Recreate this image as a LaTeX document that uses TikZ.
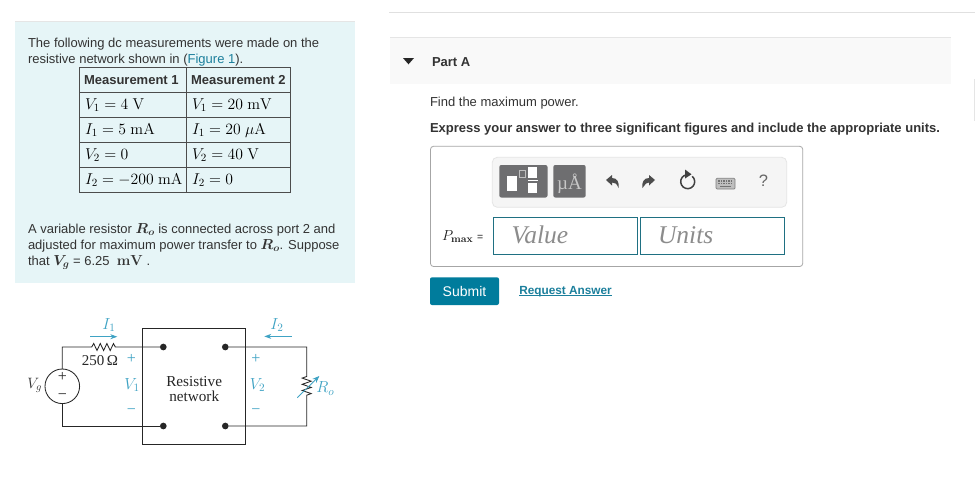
\RequirePackage{fix-cm}
\documentclass[tikz,border=0pt]{standalone}
\usepackage{amsmath}
\usepackage[no-math]{fontspec}
\setmainfont{Liberation Sans}
\usetikzlibrary{arrows.meta,calc}
\definecolor{panel}{HTML}{E6F5F7}
\definecolor{link}{HTML}{1B7F9C}
\definecolor{teal}{HTML}{007C9C}
\definecolor{boxb}{HTML}{1F7082}
\definecolor{cyanc}{HTML}{3FA3C4}
\definecolor{txt}{HTML}{333333}
\definecolor{icon}{HTML}{6E6E70}
\newfontfamily\seriff{Liberation Serif}
\newcommand{\mth}[1]{{\fontsize{14.5}{16}\selectfont\boldmath$#1$}}
\tikzset{
 px/.style={inner sep=0pt,outer sep=0pt},
 body/.style={px,anchor=base west,font=\fontsize{13}{15}\selectfont,text=txt},
 bodyb/.style={body,font=\bfseries\fontsize{13}{15}\selectfont},
 cell/.style={px,anchor=base west,font=\fontsize{15.7}{16}\selectfont,text=black},
 wire/.style={draw=black!85,line width=0.85pt},
 cwire/.style={draw=cyanc,line width=0.85pt},
 clab/.style={px,anchor=base,text=cyanc,font=\fontsize{16}{16}\selectfont},
 sign/.style={px,text=cyanc,font=\seriff\fontsize{16}{16}\selectfont},
 signk/.style={px,text=black!85,font=\seriff\fontsize{16}{16}\selectfont},
 dotn/.style={circle,fill=black!85,minimum size=6.7pt,px},
 tool/.style={fill=icon,rounded corners=2pt,draw=none},
 tabline/.style={draw=black!70,line width=0.8pt},
 ansbox/.style={draw=boxb,line width=0.9pt},
 hint/.style={px,anchor=base west,text=black!45,font=\seriff\itshape\fontsize{25.5}{27}\selectfont}
}
\begin{document}
\begin{tikzpicture}[x=1pt,y=-1pt]
\useasboundingbox (0,0) rectangle (975,479);
\fill[white] (0,0) rectangle (975,479);
% left panel
\fill[panel] (15,21) rectangle (355,283);
\draw[black!10,line width=0.8pt] (15,21) -- (355,21);
\node[body] (t1) at (28,47) {The following dc measurements were made on the};
\node[body] (t2) at (28,63) {resistive network shown in (\textcolor{link}{Figure 1}).};
% table
\draw[tabline] (79.3,67.3) rectangle (290.3,192.3);
\foreach \yy in {92.3,117.3,142.3,167.3}{\draw[tabline] (79.3,\yy) -- (290.3,\yy);}
\draw[tabline] (186.3,67.3) -- (186.3,192.3);
\node[bodyb] (h1) at (84,84) {Measurement 1};
\node[bodyb] (h2) at (191,84) {Measurement 2};
\node[cell] (a1) at (85,109.3) {$V_1=4\ \mathrm{V}$};
\node[cell] (b1) at (192,109.3) {$V_1=20\ \mathrm{mV}$};
\node[cell] (a2) at (85,134.3) {$I_1=5\ \mathrm{mA}$};
\node[cell] (b2) at (192,134.3) {$I_1=20\ \mu\mathrm{A}$};
\node[cell] (a3) at (85,159.3) {$V_2=0$};
\node[cell] (b3) at (192,159.3) {$V_2=40\ \mathrm{V}$};
\node[cell] (a4) at (85,184.3) {$I_2=-200\ \mathrm{mA}$};
\node[cell] (b4) at (192,184.3) {$I_2=0$};
\node[body] (t3) at (28,233.3) {A variable resistor \mth{R_o} is connected across port 2 and};
\node[body] (t4) at (28,249.3) {adjusted for maximum power transfer to \mth{R_o}. Suppose};
\node[body] (t5) at (28,265) {that \mth{V_g} = 6.25 \ \mth{\mathrm{mV}} .};
% circuit
\draw[black!85,line width=0.85pt] (142.7,328.3) rectangle (245.7,444.3);
\node[dotn] (d1) at (163.3,347) {};
\node[dotn] (d2) at (225.3,347) {};
\node[dotn] (d3) at (163.3,426) {};
\node[dotn] (d4) at (225.3,426) {};
\node[circle,draw=black!85,line width=0.85pt,minimum size=34.6pt,px] (src) at (62.3,386.3) {};
\coordinate (c1) at (62.3,347);
\coordinate (c2) at (62.3,426);
\coordinate (c3) at (306.7,347);
\coordinate (c4) at (306.7,426);
\coordinate (r1a) at (91.7,347);
\coordinate (r1b) at (115.3,347);
\coordinate (r2a) at (306.7,376.5);
\coordinate (r2b) at (306.7,398.5);
\draw[wire] (src.north) -- (c1) -- (r1a) -- ++(2,-3.5) -- ++(3.3,7) -- ++(3.3,-7) -- ++(3.3,7) -- ++(3.3,-7) -- ++(3.3,7) -- ++(3.3,-7) -- (r1b) -- (d1);
\draw[wire] (src.south) -- (c2) -- (d3);
\draw[wire] (d2) -- (c3) -- (r2a) -- ++(-4.5,1.6) -- ++(9,3.1) -- ++(-9,3.1) -- ++(9,3.1) -- ++(-9,3.1) -- ++(9,3.1) -- ++(-4.5,1.6) -- (r2b) -- (c4) -- (d4);
\coordinate (aa) at (297.3,397.7);
\coordinate (ab) at (319.3,376);
\draw[cwire,-{Stealth[length=7pt,width=5.5pt]}] (aa) -- (ab);
\coordinate (i1a) at (90,336.7);
\coordinate (i1b) at (117.3,336.7);
\coordinate (i2a) at (291.7,336.4);
\coordinate (i2b) at (264.3,336.4);
\draw[cwire,-{Stealth[length=7pt,width=5pt]}] (i1a) -- (i1b);
\draw[cwire,-{Stealth[length=7pt,width=5pt]}] (i2a) -- (i2b);
\node[clab] (li1) at (109,329.3) {$I_1$};
\node[clab] (li2) at (277,329.3) {$I_2$};
\node[px,anchor=base,text=black!85,font=\seriff\fontsize{15}{15}\selectfont] (l250) at (100,365) {250\,Ω};
\node[sign] (p1) at (131.3,358.5) {+};
\node[sign] (p2) at (256,358.5) {+};
\node[sign] (m1) at (131.3,412) {−};
\node[sign] (m2) at (256,412) {−};
\node[clab] (lv1) at (132,389.3) {$V_1$};
\node[clab] (lv2) at (257.5,389.3) {$V_2$};
\node[clab] (lro) at (325.3,392.7) {$R_o$};
\node[px,anchor=base,text=black!80,font=\fontsize{15}{15}\selectfont] (lvg) at (34.7,388.3) {$V_g$};
\node[signk] (sp) at (62.3,377.3) {+};
\node[signk] (sm) at (62.3,396.7) {−};
\node[px,anchor=base,font=\seriff\fontsize{15.2}{15.7}\selectfont,text=black!85] (rn1) at (194.2,386) {Resistive};
\node[px,anchor=base,font=\seriff\fontsize{15.2}{15.7}\selectfont,text=black!85] (rn2) at (194.2,401.7) {network};
% right side
\draw[black!12,line width=0.8pt] (389,12.5) -- (975,12.5);
\fill[black!2.5] (390,37.3) rectangle (951,83.5);
\draw[black!10,line width=0.8pt] (390,37.3) -- (951,37.3);
\coordinate (ta) at (403,58);
\coordinate (tb) at (414,58);
\coordinate (tc) at (408.5,64.3);
\fill[black!85] (ta) -- (tb) -- (tc) -- cycle;
\node[bodyb] (pa) at (432,66) {Part A};
\node[body] (q1) at (430,106.7) {Find the maximum power.};
\node[bodyb] (q2) at (430,132.3) {Express your answer to three significant figures and include the appropriate units.};
\draw[black!35,rounded corners=3pt,line width=0.8pt] (430.5,146.3) rectangle (802.7,266.5);
\draw[black!10,fill=black!4,rounded corners=5pt,line width=0.8pt] (492.3,157.3) rectangle (786.7,207.3);
\fill[tool] (499.3,165) rectangle (547.5,197.5);
\fill[tool] (553.3,165) rectangle (585.7,197.5);
\fill[white] (506.7,176) rectangle (516.7,190.7);
\draw[black!25,line width=0.7pt] (519.3,170.3) rectangle (525,177.5);
\fill[white] (528.3,167.3) rectangle (537.3,178.3);
\fill[white] (528.3,183.3) rectangle (537.3,192.7);
\fill[white] (527.5,180.3) rectangle (538,181.2);
\node[px,anchor=base,text=black!22,font=\seriff\fontsize{19}{20}\selectfont] (mu) at (569.5,189.5) {µÅ};
% undo / redo
\fill[black!70] (606,180) -- (612,175) -- (612,178) .. controls (617,178) and (619.5,182) .. (618.5,188) .. controls (617,184) and (615,182) .. (612,182.5) -- (612,185.5) -- cycle;
\fill[black!70] (655,180) -- (649,175) -- (649,178) .. controls (644,178) and (641.5,182) .. (642.5,188) .. controls (646,184) and (646,182) .. (649,182.5) -- (649,185.5) -- cycle;
\draw[black!75,line width=1.5pt] (692.2,176.3) arc[start angle=-50,end angle=260,radius=7];
\fill[black!75] (685,169.5) -- (691.5,174.3) -- (685,178.5) -- cycle;
\draw[black!50,fill=black!25,rounded corners=1pt,line width=0.7pt] (716,178.3) rectangle (735,189);
\foreach \kk in {718,720.5,723,725.5,728,730.5}{\fill[black!55] (\kk,180.3) rectangle +(1.5,1.2);\fill[black!55] (\kk,182.8) rectangle +(1.5,1.2);}
\fill[black!55] (720,185.5) rectangle (731,186.8);
\node[px,anchor=base,text=black!60,font=\fontsize{16.5}{17}\selectfont] (qm) at (763.5,186.5) {?};
\node[px,anchor=base west,font=\fontsize{14.5}{14}\selectfont,text=black!90] (pm) at (442,240) {$P_{\mathbf{max}}$ \fontsize{10.5}{12}\selectfont =};
\draw[ansbox] (493.3,217.3) rectangle (637.7,254.3);
\draw[ansbox] (640.3,217.3) rectangle (784.7,254.3);
\node[hint] (val) at (511.5,243) {Value};
\node[hint] (uni) at (658,243) {Units};
\fill[teal,rounded corners=2pt] (430,277.3) rectangle (499,305);
\node[px,anchor=base,text=white,font=\fontsize{14}{16}\selectfont] (sub) at (464.5,296) {Submit};
\node[px,anchor=base west,text=link,font=\bfseries\fontsize{11.8}{14}\selectfont] (req) at (519.3,294) {Request Answer};
\draw[link,line width=0.8pt] ($(req.base west)+(0,1.2)$) -- ($(req.base east)+(0,1.2)$);
\draw[black!10,line width=0.8pt] (974.5,79) -- (974.5,121);
\end{tikzpicture}
\end{document}
